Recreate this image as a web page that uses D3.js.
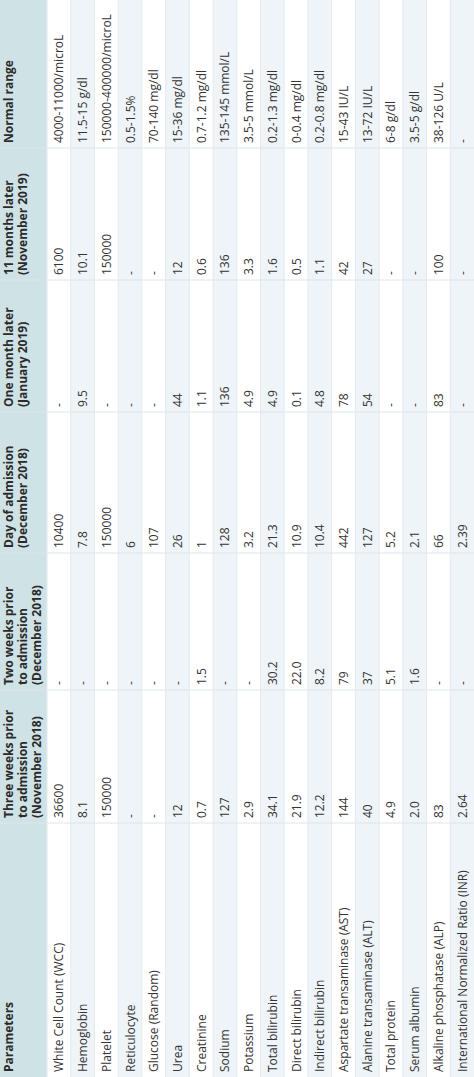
<!DOCTYPE html>
<html><head><meta charset="utf-8">
<script src="https://cdn.jsdelivr.net/npm/d3@7"></script>
<style>body{margin:0;background:#fff}svg{display:block}</style>
</head><body>
<script>
const headers = [["Parameters"],["Three weeks prior","to admission","(November 2018)"],["Two weeks prior","to admission","(December 2018)"],["Day of admission","(December 2018)"],["One month later","(January 2019)"],["11 months later","(November 2019)"],["Normal range"]];
const parameters = ["White Cell Count (WCC)","Hemoglobin","Platelet","Reticulocyte","Glucose (Random)","Urea","Creatinine","Sodium","Potassium","Total bilirubin","Direct bilirubin","Indirect bilirubin","Aspartate transaminase (AST)","Alanine transaminase (ALT)","Total protein","Serum albumin","Alkaline phosphatase (ALP)","International Normalized Ratio (INR)"];
const threeWeeks = ["36600","8.1","150000","-","-","12","0.7","127","2.9","34.1","21.9","12.2","144","40","4.9","2.0","83","2.64"];
const twoWeeks = ["-","-","-","-","-","-","1.5","-","-","30.2","22.0","8.2","79","37","5.1","1.6","-","-"];
const dayAdmission = ["10400","7.8","150000","6","107","26","1","128","3.2","21.3","10.9","10.4","442","127","5.2","2.1","66","2.39"];
const oneMonth = ["-","9.5","-","-","-","44","1.1","136","4.9","4.9","0.1","4.8","78","54","-","-","83","-"];
const elevenMonths = ["6100","10.1","150000","-","-","12","0.6","136","3.3","1.6","0.5","1.1","42","27","-","-","100","-"];
const normalRange = ["4000-11000/microL","11.5-15 g/dl","150000-400000/microL","0.5-1.5%","70-140 mg/dl","15-36 mg/dl","0.7-1.2 mg/dl","135-145 mmol/L","3.5-5 mmol/L","0.2-1.3 mg/dl","0-0.4 mg/dl","0.2-0.8 mg/dl","15-43 IU/L","13-72 IU/L","6-8 g/dl","3.5-5 g/dl","38-126 U/L","-"];

const W=474,H=1077;
const cols=[parameters,threeWeeks,twoWeeks,dayAdmission,oneMonth,elevenMonths,normalRange];
const colEdges=[0,254,387,524,665,797,929,1077];
const headH=47;
const svg=d3.select("body").append("svg").attr("width",W).attr("height",H);
const g=svg.append("g").attr("transform",`translate(0,${H}) rotate(-90)`).style("font-family","'Open Sans',sans-serif").style("font-size","12px").attr("fill","#333");
const y=d3.scaleBand().domain(d3.range(parameters.length)).range([headH,W]);
const x=i=>colEdges[i];
g.append("rect").attr("x",0).attr("y",0).attr("width",H).attr("height",headH).attr("fill","#cfe2e5");
g.selectAll("rect.row").data(d3.range(parameters.length)).join("rect").attr("class","row")
 .attr("x",0).attr("y",d=>y(d)).attr("width",H).attr("height",y.bandwidth()).attr("fill",d=>d%2?"#eef4f7":"#ffffff");
g.selectAll("line.v").data(colEdges.slice(1,-1)).join("line").attr("class","v")
 .attr("x1",d=>d).attr("x2",d=>d).attr("y1",0).attr("y2",W).attr("stroke","#dde6ea").attr("stroke-width",1);
g.selectAll("line.h").data(d3.range(parameters.length)).join("line").attr("class","h")
 .attr("x1",0).attr("x2",H).attr("y1",d=>y(d)).attr("y2",d=>y(d)).attr("stroke","#e3eaee");
headers.forEach((h,i)=>{
  const t=g.append("text").attr("x",x(i)+5).attr("y",13).attr("font-weight","bold").attr("fill","#2b2b2b");
  h.forEach((l,k)=>t.append("tspan").attr("x",x(i)+5).attr("dy",k?14:0).text(l));
});
cols.forEach((c,i)=>{
  g.selectAll(null).data(c).join("text").attr("x",x(i)+5).attr("y",(d,j)=>y(j)+y.bandwidth()/2+4.5).text(d=>d);
});
</script>
</body></html>
